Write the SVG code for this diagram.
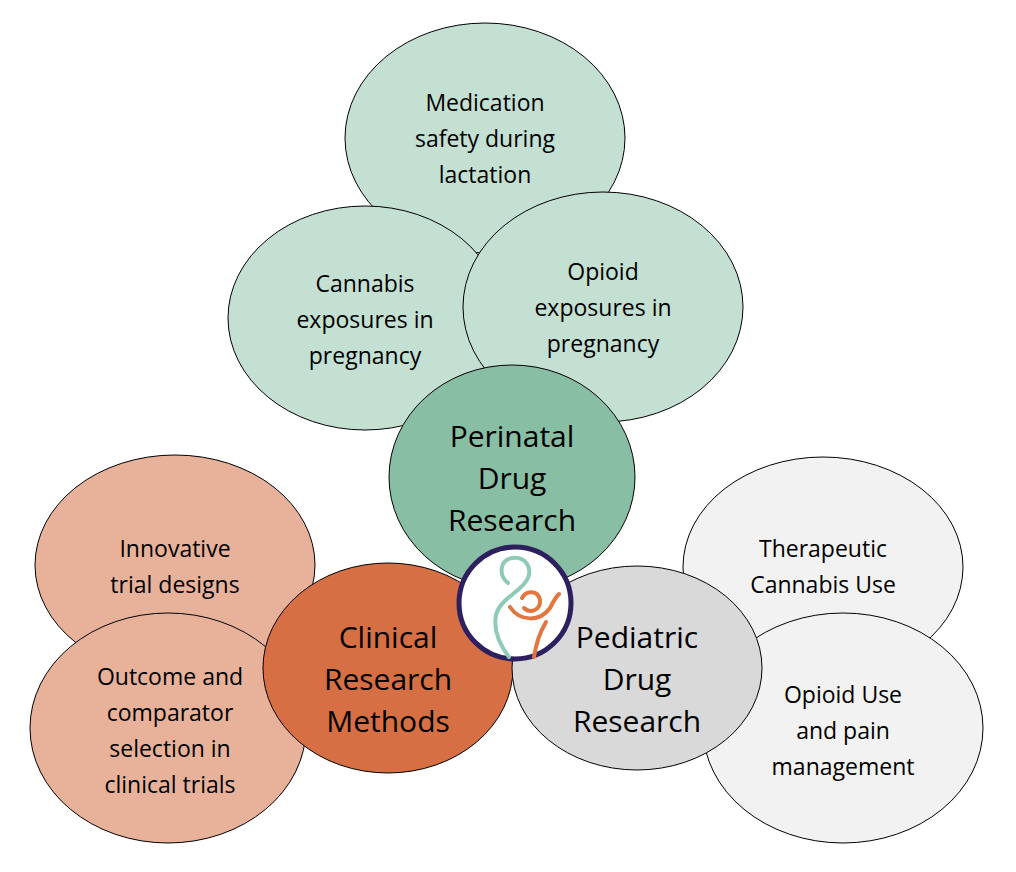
<svg xmlns="http://www.w3.org/2000/svg" width="1016" height="872" viewBox="0 0 1016 872">
<style>
.e{stroke:#000;stroke-width:1}
.g{fill:#c3e0d3}.gd{fill:#88bea4}.o{fill:#e8b29a}.od{fill:#d66f43}.w{fill:#f2f2f2}.wd{fill:#d9d9d9}
text{font-family:"Open Sans","Liberation Sans",sans-serif;fill:#000;text-anchor:middle}
.s{font-size:23px}.b{font-size:30px}
</style>
<rect width="1016" height="872" fill="#fff"/>
<g id="n-medication"><ellipse class="e g" cx="485" cy="138" rx="140" ry="115"/>
<text class="s" x="485" y="111">Medication</text><text class="s" x="485" y="147">safety during</text><text class="s" x="485" y="183">lactation</text></g>
<g id="n-cannabis"><ellipse class="e g" cx="365" cy="318" rx="137" ry="112"/>
<text class="s" x="365" y="292">Cannabis</text><text class="s" x="365" y="328">exposures in</text><text class="s" x="365" y="364">pregnancy</text></g>
<g id="n-opioidexp"><ellipse class="e g" cx="603" cy="307" rx="140" ry="115"/>
<text class="s" x="603" y="280">Opioid</text><text class="s" x="603" y="316">exposures in</text><text class="s" x="603" y="352">pregnancy</text></g>
<g id="n-perinatal"><ellipse class="e gd" cx="512" cy="477" rx="123" ry="112"/>
<text class="b" x="512" y="447">Perinatal</text><text class="b" x="512" y="489">Drug</text><text class="b" x="512" y="531">Research</text></g>
<g id="n-innovative"><ellipse class="e o" cx="175" cy="565" rx="140" ry="110"/>
<text class="s" x="175" y="557">Innovative</text><text class="s" x="175" y="593">trial designs</text></g>
<g id="n-outcome"><ellipse class="e o" cx="168" cy="728" rx="138" ry="115"/>
<text class="s" x="170" y="685">Outcome and</text><text class="s" x="170" y="721">comparator</text><text class="s" x="170" y="757">selection in</text><text class="s" x="170" y="793">clinical trials</text></g>
<g id="n-clinical"><ellipse class="e od" cx="388" cy="668" rx="125" ry="105"/>
<text class="b" x="388" y="648">Clinical</text><text class="b" x="388" y="690">Research</text><text class="b" x="388" y="732">Methods</text></g>
<g id="n-therapeutic"><ellipse class="e w" cx="823" cy="567" rx="140" ry="110"/>
<text class="s" x="823" y="557">Therapeutic</text><text class="s" x="823" y="593">Cannabis Use</text></g>
<g id="n-opioiduse"><ellipse class="e w" cx="843" cy="728" rx="140" ry="115"/>
<text class="s" x="843" y="703">Opioid Use</text><text class="s" x="843" y="739">and pain</text><text class="s" x="843" y="775">management</text></g>
<g id="n-pediatric"><ellipse class="e wd" cx="637" cy="668" rx="125" ry="102"/>
<text class="b" x="637" y="648">Pediatric</text><text class="b" x="637" y="690">Drug</text><text class="b" x="637" y="732">Research</text></g>
<g id="logo">
<circle cx="515" cy="603" r="56" fill="#fff" stroke="#2e1f5e" stroke-width="5"/>
<path d="M508,583 C498,575 500,560 512,558 C526,556 532,568 528,578 C522,592 500,598 496,615 C493,630 500,645 509,657" fill="none" stroke="#8fcab6" stroke-width="4" stroke-linecap="round"/>
<path d="M522,598 C526,590 538,590 540,600 C541,610 530,614 524,608" fill="none" stroke="#e2763f" stroke-width="4" stroke-linecap="round"/>
<path d="M510,607 C520,622 540,622 550,608 C553,602 556,597 559,594" fill="none" stroke="#e2763f" stroke-width="4" stroke-linecap="round"/>
<path d="M546,622 C540,632 536,644 534,657" fill="none" stroke="#e2763f" stroke-width="4" stroke-linecap="round"/>
</g>
<g id="connectors"></g>
</svg>
